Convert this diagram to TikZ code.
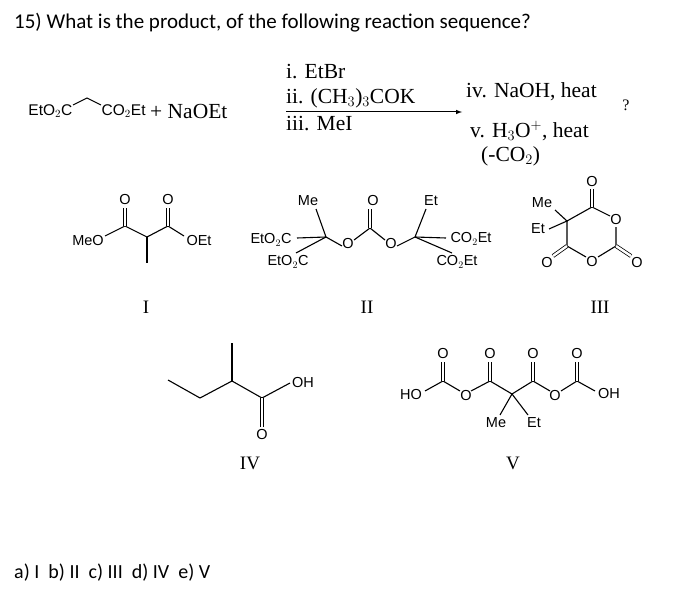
\documentclass[tikz,border=0pt]{standalone}
\usepackage{fontspec}
\setmainfont{Liberation Serif}
\newfontfamily\qf{Carlito}
\newfontfamily\af{Liberation Sans}
\begin{document}
\begin{tikzpicture}[x=1pt,y=-1pt,
 bd/.style={line width=1.1pt},
 db/.style={line width=0.8pt,double,double distance=2.4pt},
 atm/.style={font=\af\fontsize{14.5}{14.5}\selectfont,inner sep=0.5pt},
 rg/.style={font=\fontsize{21.5}{21.5}\selectfont,anchor=west,inner sep=0pt},
 lb/.style={font=\fontsize{19}{19}\selectfont}]
\useasboundingbox (0,0) rectangle (699,591);
\node[anchor=west,inner sep=0pt,font=\qf\fontsize{21}{21}\selectfont] (t) at (14,23) {15) What is the product, of the following reaction sequence?};
% reactant
\node[atm,anchor=east,font=\af\fontsize{15.5}{15.5}\selectfont] (r1) at (73,111) {EtO$_2$C};
\node[atm,anchor=west,font=\af\fontsize{15.5}{15.5}\selectfont] (r2) at (101,111) {CO$_2$Et};
\coordinate (zp) at (87,98);
\draw[bd] (73,105) -- (zp) -- (101,105);
\node[rg] (pl) at (150,111) {+ NaOEt};
\node[rg] (ra) at (286,72) {i. EtBr};
\node[rg] (rb) at (286,98) {ii. (CH$_3$)$_3$COK};
\node[rg] (rc) at (286,124) {iii. MeI};
\coordinate (a1) at (286,112);
\coordinate (a2) at (462,112);
\draw[line width=1pt,-latex] (a1) -- (a2);
\node[rg] (rd) at (466,92) {iv. NaOH, heat};
\node[rg] (re) at (470,131) {v. H$_3$O$^{+}$, heat};
\node[rg] (rf) at (481,156) {(-CO$_2$)};
\node[font=\fontsize{16}{16}\selectfont] (q) at (626,105) {?};
% I
\node[atm] (m1) at (88,241) {MeO};
\node[atm] (o1) at (125,200) {O};
\node[atm] (o2) at (168,200) {O};
\node[atm] (e1) at (199,241) {OEt};
\draw[bd] (105,236) -- (125,226) -- (147,237) -- (168,226) -- (184,236);
\draw[bd] (147,237) -- (147,263);
\draw[db] (125,226) -- (125,208);
\draw[db] (168,226) -- (168,208);
% II
\node[atm] (x1) at (271,240) {EtO$_2$C};
\node[atm] (x2) at (308,201) {Me};
\node[atm] (x3) at (288,262) {EtO$_2$C};
\node[atm] (x4) at (348,244) {O};
\node[atm] (x5) at (373,201) {O};
\node[atm] (x6) at (391,244) {O};
\node[atm] (x7) at (431,201) {Et};
\node[atm] (x8) at (471,239) {CO$_2$Et};
\node[atm] (x9) at (457,262) {CO$_2$Et};
\coordinate (q1) at (326,237);
\coordinate (q2) at (415,237);
\coordinate (cc) at (370,228);
\draw[bd] (297,238) -- (q1) -- (316,209);
\draw[bd] (q1) -- (296,253);
\draw[bd] (q1) -- (342,246) ; \draw[bd] (354,240) -- (cc) -- (385,240);
\draw[db] (cc) -- (370,209);
\draw[bd] (397,246) -- (q2) -- (426,209);
\draw[bd] (q2) -- (446,238);
\draw[bd] (q2) -- (452,253);
% III
\node[atm] (y1) at (542,203) {Me};
\node[atm] (y2) at (538,229) {Et};
\node[atm] (y3) at (592,182) {O};
\node[atm] (y4) at (616,220) {O};
\node[atm] (y5) at (592,262) {O};
\node[atm] (y6) at (637,263) {O};
\node[atm] (y7) at (547,263) {O};
\draw[bd] (555,210) -- (567,221) -- (549,229);
\draw[bd] (567,221) -- (592,207) -- (610,216);
\draw[bd] (616,227) -- (616,246) -- (598,257);
\draw[bd] (586,257) -- (567,246) -- (567,221);
\draw[db] (592,207) -- (592,189);
\draw[db] (616,246) -- (631,256);
\draw[db] (567,246) -- (553,256);
\node[lb] (L1) at (146,307) {I};
\node[lb] (L2) at (367,307) {II};
\node[lb] (L3) at (600,307) {III};
% IV
\node[atm] (z1) at (303,383) {OH};
\node[atm] (z2) at (262,435) {O};
\draw[bd] (168,380) -- (200,398) -- (232,381) -- (262,398) -- (290,383);
\draw[bd] (232,381) -- (232,343);
\draw[db] (262,398) -- (262,427);
% V
\node[atm] (v1) at (411,395) {HO};
\node[atm] (v2) at (443,354) {O};
\node[atm] (v3) at (466,396) {O};
\node[atm] (v4) at (490,354) {O};
\node[atm] (v5) at (533,354) {O};
\node[atm] (v6) at (555,396) {O};
\node[atm] (v7) at (577,354) {O};
\node[atm] (v8) at (609,394) {OH};
\node[atm] (v9) at (496,423) {Me};
\node[atm] (v10) at (534,423) {Et};
\draw[bd] (425,391) -- (443,381) -- (460,391);
\draw[bd] (471,391) -- (490,381) -- (512,394) -- (533,381) -- (550,391);
\draw[bd] (561,391) -- (577,381) -- (595,391);
\draw[bd] (512,394) -- (500,415); \draw[bd] (512,394) -- (528,415);
\draw[db] (443,381) -- (443,362);
\draw[db] (490,381) -- (490,362);
\draw[db] (533,381) -- (533,362);
\draw[db] (577,381) -- (577,362);
\node[lb] (L4) at (250,463) {IV};
\node[lb] (L5) at (513,463) {V};
\node[anchor=west,inner sep=0pt,font=\qf\fontsize{20}{20}\selectfont] (ans) at (14,573) {a) I \ b) II \ c) III \ d) IV \ e) V};
\end{tikzpicture}
\end{document}
